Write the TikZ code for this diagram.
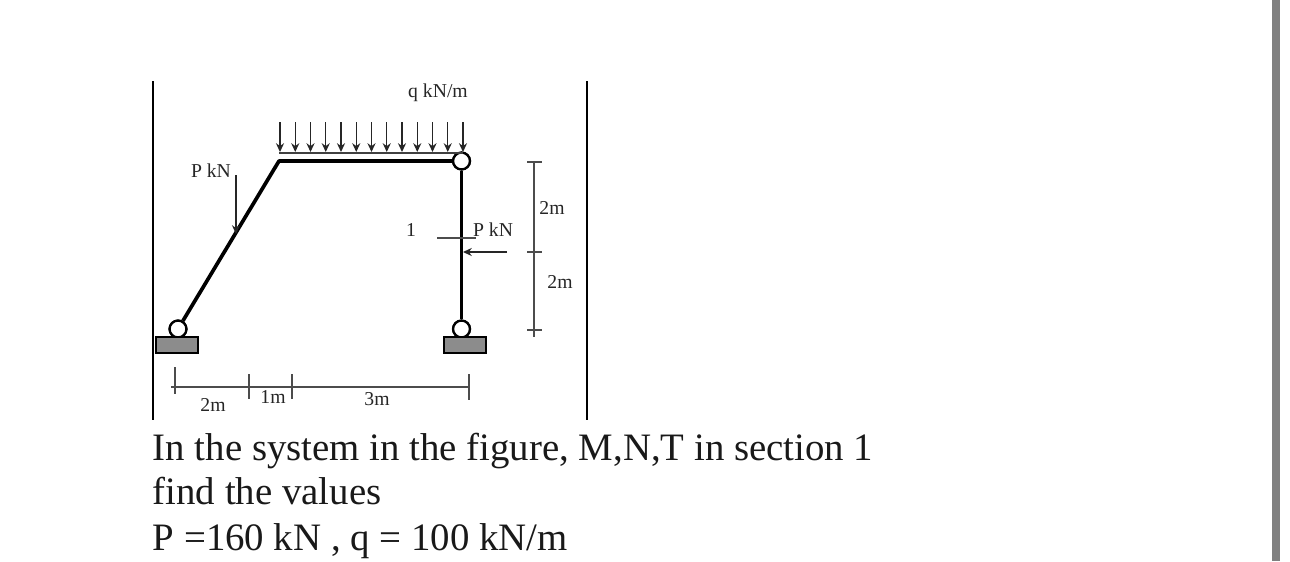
\documentclass[tikz,border=0pt]{standalone}
\usepackage{fontspec}
\usetikzlibrary{arrows.meta}
\setmainfont{Liberation Serif}
\tikzset{
	frameline/.style={line width=2.1pt,black},
	wall/.style={line width=1pt,black},
	dimline/.style={line width=0.9pt,black!70},
	loadarrow/.style={line width=0.75pt,-{Stealth[length=5pt,width=4.6pt]},black!85},
	pin/.style={draw,circle,fill=white,line width=1.3pt,minimum size=9.6pt,inner sep=0pt},
	ground/.style={draw,fill=black!45,line width=0.8pt,minimum width=24pt,minimum height=9.2pt,inner sep=0pt},
	lbl/.style={font=\fontsize{11.2}{13}\selectfont,text=black!85,inner sep=0pt},
	question/.style={font=\fontsize{22.1}{26}\selectfont,text=black!90,inner sep=0pt,anchor=base west}
}
\begin{document}
\begin{tikzpicture}[x=0.02cm,y=-0.02cm]
	\useasboundingbox (0,0) rectangle (1290,561);
	\fill[black!50] (1272,0) rectangle (1280,561);

	%SIDE LINES
	\coordinate (wallAtop) at (153,81);
	\coordinate (wallAbot) at (153,420);
	\coordinate (wallBtop) at (587,81);
	\coordinate (wallBbot) at (587,420);
	\draw[wall] (wallAtop)--(wallAbot);
	\draw[wall] (wallBtop)--(wallBbot);

	%FRAME
	\coordinate (corner) at (279,161);
	\node[pin] (pinA) at (178,329) {};
	\node[pin] (pinB) at (461.5,161) {};
	\node[pin] (pinC) at (461.5,329) {};
	\draw[frameline,line join=round] (pinA)--(corner)--(pinB);
	\draw[frameline] (pinB)--(pinC);
	\node[pin] at (pinA) {};
	\node[pin] at (pinB) {};
	\node[pin] at (pinC) {};

	%SUPPORTS
	\node[ground] (baseA) at (177,345) {};
	\node[ground] (baseC) at (465,345) {};

	%DISTRIBUTED LOAD
	\coordinate (loadL) at (279,153);
	\coordinate (loadR) at (463,153);
	\draw[line width=0.8pt,black!75] (loadL)--(loadR);
	\foreach \i in {0,...,12} {
		\coordinate (qtop\i) at ({280+15.25*\i},122);
		\coordinate (qbot\i) at ({280+15.25*\i},152);
		\draw[loadarrow] (qtop\i)--(qbot\i);
	}
	\node[lbl] (qlabel) at (438,93) {q kN/m};

	%LEFT FORCE
	\coordinate (forceAtop) at (236,175);
	\coordinate (forceAbot) at (236,234);
	\draw[loadarrow] (forceAtop)--(forceAbot);
	\node[lbl] (forceAlabel) at (211,171) {P kN};

	%SECTION AND RIGHT FORCE
	\coordinate (cutL) at (437,238);
	\coordinate (cutR) at (476,238);
	\draw[dimline] (cutL)--(cutR);
	\node[lbl] (cutlabel) at (411,230) {1};
	\coordinate (forceBtail) at (507,252);
	\coordinate (forceBhead) at (463,252);
	\draw[loadarrow] (forceBtail)--(forceBhead);
	\node[lbl] (forceBlabel) at (493,230) {P kN};

	%VERTICAL DIMENSION
	\coordinate (vtop) at (534,162);
	\coordinate (vbot) at (534,337);
	\draw[dimline] (vtop)--(vbot);
	\foreach \name/\y in {vtickA/162,vtickB/252,vtickC/330} {
		\coordinate (\name L) at (527,\y);
		\coordinate (\name R) at (542,\y);
		\draw[dimline] (\name L)--(\name R);
	}
	\node[lbl] (vlabelA) at (552,208) {2m};
	\node[lbl] (vlabelB) at (560,282) {2m};

	%HORIZONTAL DIMENSION
	\coordinate (hleft) at (171,387);
	\coordinate (hright) at (469,387);
	\draw[dimline] (hleft)--(hright);
	\foreach \name/\x/\a/\b in {htickA/175/367/394,htickB/249/374/399,htickC/292/374/399,htickD/469/374/400} {
		\coordinate (\name T) at (\x,\a);
		\coordinate (\name B) at (\x,\b);
		\draw[dimline] (\name T)--(\name B);
	}
	\node[lbl] (hlabelA) at (213,405) {2m};
	\node[lbl] (hlabelB) at (273,397) {1m};
	\node[lbl] (hlabelC) at (377,399) {3m};

	%QUESTION TEXT
	\node[question] (lineA) at (152.5,460) {In the system in the figure, M,N,T in section 1};
	\node[question] (lineB) at (152.5,504) {find the values};
	\node[question] (lineC) at (152.5,550) {P =160 kN , q = 100 kN/m};
\end{tikzpicture}
\end{document}
